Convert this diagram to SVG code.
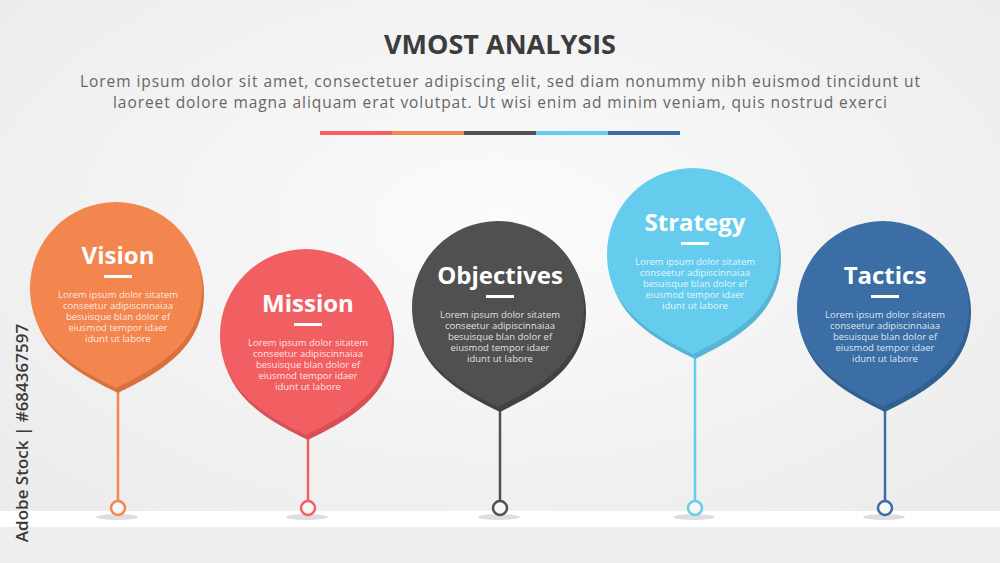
<svg xmlns="http://www.w3.org/2000/svg" xmlns:xlink="http://www.w3.org/1999/xlink" width="1000" height="563" viewBox="0 0 1000 563">
  <style>
    .title{font-family:"Open Sans","Liberation Sans",sans-serif;font-weight:700;font-size:27px;fill:#3c3c3c;text-anchor:middle}
    .sub{font-family:"Open Sans","Liberation Sans",sans-serif;font-size:15.5px;fill:#666;text-anchor:middle}
    .ht{font-family:"Open Sans","Liberation Sans",sans-serif;font-weight:700;font-size:24px;fill:#fff;text-anchor:middle}
    .bt{font-family:"Open Sans","Liberation Sans",sans-serif;font-size:9.5px;fill:#fff;fill-opacity:0.85;text-anchor:middle}
    .wm{font-family:"Open Sans","Liberation Sans",sans-serif;font-weight:600;font-size:17px;fill:#3a3a3a;text-anchor:middle}
    .ring{fill:#f7f7f7;stroke-width:2.5}
    .stem{stroke-width:2.5}
    .shadow{fill:#dedede}
  </style>
  <defs>
    <radialGradient id="bg" cx="50%" cy="40%" r="70%">
      <stop offset="0" stop-color="#fbfbfb"/>
      <stop offset="1" stop-color="#ebebeb"/>
    </radialGradient>
    <path id="balloon" d="M0,100 C-36,82 -86,58 -86,0 A86,86 0 0 1 86,0 C86,58 36,82 0,100 Z"/>
  </defs>

  <rect width="1000" height="563" fill="url(#bg)"/>
  <rect x="0" y="511" width="1000" height="16" fill="#ffffff"/>
  <rect x="0" y="527" width="1000" height="36" fill="#eeeeee"/>

  <text class="title" x="500" y="54">VMOST ANALYSIS</text>
  <text class="sub" x="500" y="87" textLength="840" lengthAdjust="spacing">Lorem ipsum dolor sit amet, consectetuer adipiscing elit, sed diam nonummy nibh euismod tincidunt ut</text>
  <text class="sub" x="500" y="108" textLength="774" lengthAdjust="spacing">laoreet dolore magna aliquam erat volutpat. Ut wisi enim ad minim veniam, quis nostrud exerci</text>

  <g id="colorbar">
    <rect x="320" y="131" width="72" height="4" fill="#F25F62"/>
    <rect x="392" y="131" width="72" height="4" fill="#F3854F"/>
    <rect x="464" y="131" width="72" height="4" fill="#505050"/>
    <rect x="536" y="131" width="72" height="4" fill="#66CCEE"/>
    <rect x="608" y="131" width="72" height="4" fill="#3A6EA5"/>
  </g>

  <g id="connectors">
    <line class="stem" x1="118" y1="392" x2="118" y2="501" stroke="#F3854F"/>
    <line class="stem" x1="308" y1="439" x2="308" y2="501" stroke="#F25F62"/>
    <line class="stem" x1="500" y1="411" x2="500" y2="501" stroke="#505050"/>
    <line class="stem" x1="695" y1="358" x2="695" y2="501" stroke="#66CCEE"/>
    <line class="stem" x1="885" y1="411" x2="885" y2="501" stroke="#3A6EA5"/>
  </g>

  <g id="vision">
    <ellipse class="shadow" cx="117" cy="517" rx="21" ry="3"/>
    <circle class="ring" cx="118" cy="508" r="7" stroke="#F3854F"/>
    <use href="#balloon" transform="translate(118,293)" fill="#DB703F"/>
    <use href="#balloon" transform="translate(116,288)" fill="#F3854F"/>
    <text class="ht" x="118" y="264">Vision</text>
    <rect x="104" y="275" width="28" height="3" fill="#fff"/>
    <text class="bt" x="118" y="297.5">Lorem ipsum dolor sitatem</text>
    <text class="bt" x="118" y="308.5">conseetur adipiscinnaiaa</text>
    <text class="bt" x="118" y="319.5">besuisque blan dolor ef</text>
    <text class="bt" x="118" y="330.5">eiusmod tempor idaer</text>
    <text class="bt" x="118" y="341.5">idunt ut labore</text>
  </g>

  <g id="mission">
    <ellipse class="shadow" cx="307" cy="517" rx="21" ry="3"/>
    <circle class="ring" cx="308" cy="508" r="7" stroke="#F25F62"/>
    <use href="#balloon" transform="translate(308,340)" fill="#D84F55"/>
    <use href="#balloon" transform="translate(306,335)" fill="#F25F62"/>
    <text class="ht" x="308" y="312">Mission</text>
    <rect x="294" y="323" width="28" height="3" fill="#fff"/>
    <text class="bt" x="308" y="345.5">Lorem ipsum dolor sitatem</text>
    <text class="bt" x="308" y="356.5">conseetur adipiscinnaiaa</text>
    <text class="bt" x="308" y="367.5">besuisque blan dolor ef</text>
    <text class="bt" x="308" y="378.5">eiusmod tempor idaer</text>
    <text class="bt" x="308" y="389.5">idunt ut labore</text>
  </g>

  <g id="objectives">
    <ellipse class="shadow" cx="499" cy="517" rx="21" ry="3"/>
    <circle class="ring" cx="500" cy="508" r="7" stroke="#505050"/>
    <use href="#balloon" transform="translate(500,312)" fill="#424242"/>
    <use href="#balloon" transform="translate(498,307)" fill="#505050"/>
    <text class="ht" x="500" y="284">Objectives</text>
    <rect x="486" y="295" width="28" height="3" fill="#fff"/>
    <text class="bt" x="500" y="317.5">Lorem ipsum dolor sitatem</text>
    <text class="bt" x="500" y="328.5">conseetur adipiscinnaiaa</text>
    <text class="bt" x="500" y="339.5">besuisque blan dolor ef</text>
    <text class="bt" x="500" y="350.5">eiusmod tempor idaer</text>
    <text class="bt" x="500" y="361.5">idunt ut labore</text>
  </g>

  <g id="strategy">
    <ellipse class="shadow" cx="694" cy="517" rx="21" ry="3"/>
    <circle class="ring" cx="695" cy="508" r="7" stroke="#66CCEE"/>
    <use href="#balloon" transform="translate(695,259)" fill="#57B4D6"/>
    <use href="#balloon" transform="translate(693,254)" fill="#66CCEE"/>
    <text class="ht" x="695" y="231">Strategy</text>
    <rect x="681" y="242" width="28" height="3" fill="#fff"/>
    <text class="bt" x="695" y="264.5">Lorem ipsum dolor sitatem</text>
    <text class="bt" x="695" y="275.5">conseetur adipiscinnaiaa</text>
    <text class="bt" x="695" y="286.5">besuisque blan dolor ef</text>
    <text class="bt" x="695" y="297.5">eiusmod tempor idaer</text>
    <text class="bt" x="695" y="308.5">idunt ut labore</text>
  </g>

  <g id="tactics">
    <ellipse class="shadow" cx="884" cy="517" rx="21" ry="3"/>
    <circle class="ring" cx="885" cy="508" r="7" stroke="#3A6EA5"/>
    <use href="#balloon" transform="translate(885,312)" fill="#30608F"/>
    <use href="#balloon" transform="translate(883,307)" fill="#3A6EA5"/>
    <text class="ht" x="885" y="284">Tactics</text>
    <rect x="871" y="295" width="28" height="3" fill="#fff"/>
    <text class="bt" x="885" y="317.5">Lorem ipsum dolor sitatem</text>
    <text class="bt" x="885" y="328.5">conseetur adipiscinnaiaa</text>
    <text class="bt" x="885" y="339.5">besuisque blan dolor ef</text>
    <text class="bt" x="885" y="350.5">eiusmod tempor idaer</text>
    <text class="bt" x="885" y="361.5">idunt ut labore</text>
  </g>

  <text class="wm" transform="translate(28,433) rotate(-90)">Adobe Stock | #684367597</text>
</svg>
